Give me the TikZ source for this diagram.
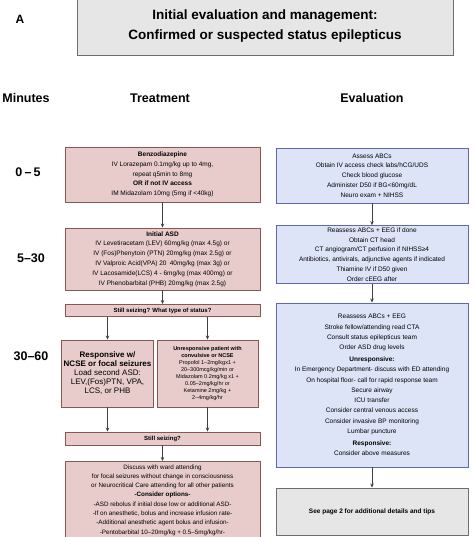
\documentclass[tikz,border=0pt]{standalone}
\usepackage{fontspec}
\setmainfont{Liberation Sans}
\usepackage{tikz}
\usetikzlibrary{arrows.meta, positioning}
\usepackage{xcolor}
\definecolor{treatfill}{RGB}{232,204,204}
\definecolor{treatdraw}{RGB}{140,85,85}
\definecolor{evalfill}{RGB}{222,228,248}
\definecolor{evaldraw}{RGB}{95,105,170}
\definecolor{headfill}{RGB}{230,230,230}
\definecolor{headdraw}{RGB}{110,110,110}
\tikzset{
  basebox/.style={
    rectangle, draw, line width=0.9pt, align=center, inner sep=2pt,
    font=\fontsize{6.5}{9.8}\selectfont
  },
  headbox/.style={basebox, fill=headfill, draw=headdraw},
  treatbox/.style={basebox, fill=treatfill, draw=treatdraw, minimum width=195pt},
  questbox/.style={treatbox, minimum height=12pt, inner sep=0pt, font=\fontsize{6}{7}\selectfont\bfseries},
  evalbox/.style={basebox, fill=evalfill, draw=evaldraw, minimum width=192pt},
  colhead/.style={font=\fontsize{12.5}{14}\selectfont\bfseries},
  arrow/.style={-{Stealth[length=4pt,width=3.5pt]}, line width=0.7pt, color=black!75}
}

\begin{document}
\begin{tikzpicture}[x=1pt, y=-1pt]
  \useasboundingbox (0,0) rectangle (474,537);

  % heading
  \node[font=\fontsize{12}{14}\selectfont\bfseries] (panel) at (20,19) {A};
  \node[headbox, minimum width=376pt, minimum height=57pt,
        font=\fontsize{13.5}{20}\selectfont\bfseries] (title) at (265,26.5)
        {Initial evaluation and management:\\Confirmed or suspected status epilepticus};

  \node[colhead] (minutes) at (26,98) {Minutes};
  \node[colhead] (treat) at (160,98) {Treatment};
  \node[colhead] (eval) at (372,98) {Evaluation};

  \node[colhead] (t1) at (28,172) {0\,--\,5};
  \node[colhead] (t2) at (31,258) {5--30};
  \node[colhead] (t3) at (31,356) {30--60};

  % treatment column
  \node[treatbox, minimum height=55pt] (benzo) at (162.5,174.5)
        {\textbf{Benzodiazepine}\\IV Lorazepam 0.1mg/kg up to 4mg,\\repeat q5min to 8mg\\
         \textbf{OR if not IV access}\\IM Midazolam 10mg (5mg if <40kg)};
  \node[treatbox, minimum height=62pt] (asd) at (162.5,259)
        {\textbf{Initial ASD}\\IV Levetiracetam (LEV) 60mg/kg (max 4.5g) or\\
         IV (Fos)Phenytoin (PTN) 20mg/kg (max 2.5g) or\\
         IV Valproic Acid(VPA) 20\enspace40mg/kg (max 3g) or\\
         IV Lacosamide(LCS) 4 - 6mg/kg (max 400mg) or\\
         IV Phenobarbital (PHB) 20mg/kg (max 2.5g)};
  \node[questbox] (status) at (162.5,310.5) {Still seizing? What type of status?};
  \node[treatbox, minimum width=85pt, minimum height=67pt,
        font=\fontsize{8}{9}\selectfont] (resp) at (107.5,373.5)
        {\textbf{Responsive w/}\\\textbf{NCSE or focal seizures}\\Load second ASD:\\LEV,(Fos)PTN, VPA,\\LCS, or PHB};
  \node[treatbox, minimum width=101pt, minimum height=67pt,
        font=\fontsize{5.5}{7}\selectfont] (unresp) at (207.5,373.5)
        {\textbf{Unresponsive patient with}\\\textbf{convulsive or NCSE}\\Propofol 1--2mg/kgx1 +\\
         20--300mcg/kg/min or\\Midazolam 0.2mg/kg x1 +\\0.05--2mg/kg/hr or\\Ketamine 2mg/kg +\\2--4mg/kg/hr};
  \node[questbox, minimum height=13pt] (still) at (162.5,438.5) {Still seizing?};
  \node[treatbox, anchor=north, inner sep=3pt, font=\fontsize{6.3}{9.3}\selectfont] (options) at (162.5,461)
        {Discuss with ward attending\\for focal seizures without change in consciousness\\
         or Neurocritical Care attending for all other patients\\\textbf{-Consider options-}\\
         -ASD rebolus if initial dose low or additional ASD-\\
         -If on anesthetic, bolus and increase infusion rate-\\
         -Additional anesthetic agent bolus and infusion-\\
         -Pentobarbital 10--20mg/kg + 0.5--5mg/kg/hr-};

  % evaluation column
  \node[evalbox, minimum height=55pt] (abc) at (372,175.5)
        {Assess ABCs\\Obtain IV access check labs/hCG/UDS\\Check blood glucose\\
         Administer D50 if BG<60mg/dL\\Neuro exam + NIHSS};
  \node[evalbox, minimum height=57pt] (ct) at (372,254.5)
        {Reassess ABCs + EEG if done\\Obtain CT head\\CT angiogram/CT perfusion if NIHSS≥4\\
         Antibiotics, antivirals, adjunctive agents if indicated\\Thiamine IV if D50 given\\Order cEEG after};
  \node[evalbox, minimum height=164pt, font=\fontsize{6.5}{10.3}\selectfont] (team) at (372,385)
        {Reassess ABCs + EEG\\Stroke fellow/attending read CTA\\Consult status epilepticus team\\
         Order ASD drug levels\\[1.5pt]\textbf{Unresponsive:}\\
         In Emergency Department- discuss with ED attending\\On hospital floor- call for rapid response team\\
         Secure airway\\ICU transfer\\Consider central venous access\\Consider invasive BP monitoring\\
         Lumbar puncture\\[1.5pt]\textbf{Responsive:}\\Consider above measures};
  \node[headbox, minimum width=192pt, minimum height=47pt,
        font=\fontsize{6.5}{8}\selectfont\bfseries] (more) at (372,511.5)
        {See page 2 for additional details and tips};

  \draw[arrow] (benzo) -- (asd);
  \draw[arrow] (asd) -- (status);
  \draw[arrow] (resp.north |- status.south) -- (resp.north);
  \draw[arrow] (unresp.north |- status.south) -- (unresp.north);
  \draw[arrow] (resp.south) -- (resp.south |- still.north);
  \draw[arrow] (unresp.south) -- (unresp.south |- still.north);
  \draw[arrow] (still) -- (options);

  \draw[arrow] (abc) -- (ct);
  \draw[arrow] (ct) -- (team);
  \draw[arrow] (team) -- (more);
\end{tikzpicture}
\end{document}
